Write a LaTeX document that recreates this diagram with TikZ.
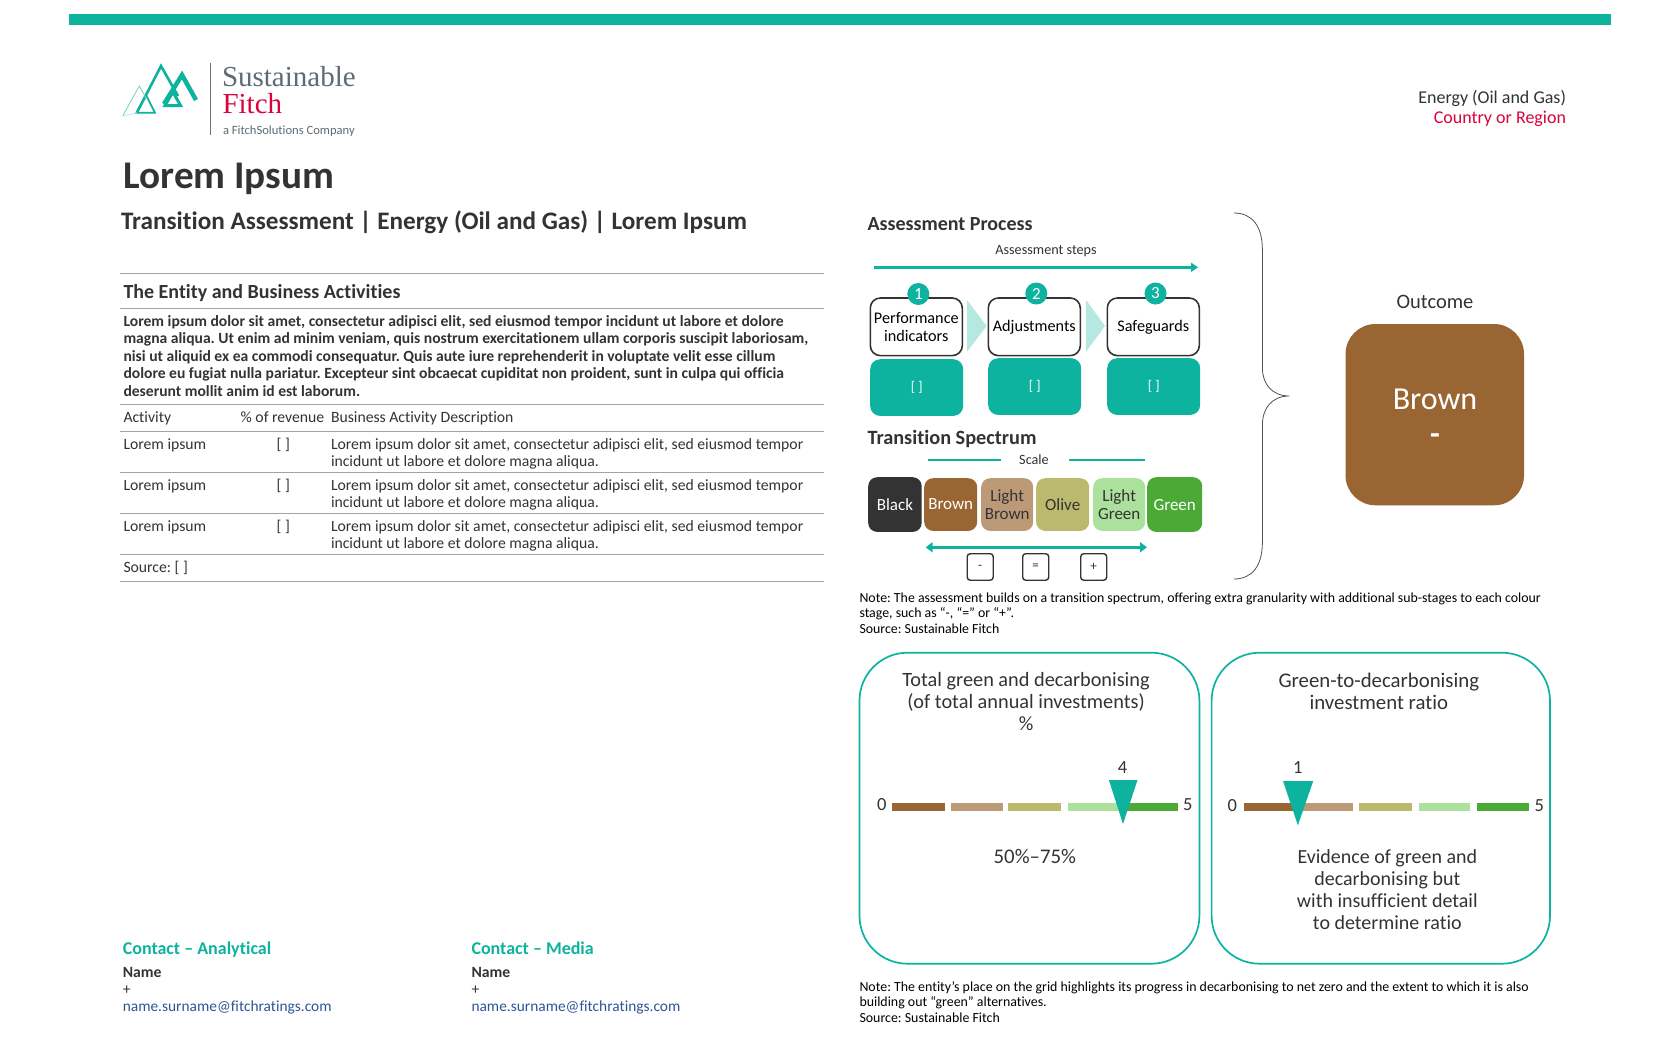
\documentclass[tikz,border=0pt]{standalone}
\usepackage{fontspec}
\setmainfont{Carlito}[Ligatures=NoCommon]
\newfontfamily\serifl{Liberation Serif}
\usetikzlibrary{arrows.meta}
\definecolor{fteal}{HTML}{0DB39E}
\definecolor{ftint}{HTML}{B5E8E0}
\definecolor{fdark}{HTML}{333333}
\definecolor{fred}{HTML}{D9043D}
\definecolor{fgrey}{HTML}{A0A4A8}
\definecolor{fslate}{HTML}{5F6B73}
\definecolor{fblue}{HTML}{2F5597}
\definecolor{fbrown}{HTML}{996633}
\definecolor{flbrown}{HTML}{BC9A78}
\definecolor{folive}{HTML}{BBB96E}
\definecolor{flgreen}{HTML}{ABE09D}
\definecolor{fgreen}{HTML}{4BA935}
\newcommand{\fs}[2]{\frenchspacing\fontsize{#1}{#2}\selectfont}
\tikzset{
  txt/.style={inner sep=0pt,outer sep=0pt,anchor=base west,text=fdark},
  ctr/.style={inner sep=0pt,outer sep=0pt,anchor=base,text=fdark,align=center},
  rule/.style={draw=fgrey,line width=1pt},
  stepbox/.style={draw=fdark,fill=white,line width=1.6pt,rounded corners=10pt,minimum width=92pt,minimum height=57.6pt,align=center,anchor=north west,inner sep=0pt,font=\fs{16.2}{18.5}},
  tealbox/.style={fill=fteal,rounded corners=10pt,minimum width=93pt,minimum height=56.7pt,anchor=north west,inner sep=0pt,text=white,font=\fs{14}{14}},
  numdot/.style={circle,fill=fteal,inner sep=0pt,minimum size=22pt,text=white,font=\fs{17}{17}},
  chev/.style={fill=ftint},
  swatch/.style={rounded corners=9pt,anchor=north west,inner sep=0pt,align=center,font=\fs{17}{18}},
  signbox/.style={draw=fdark,fill=white,line width=1.4pt,rounded corners=3pt,font=\fs{13}{13},text=fdark,inner sep=0pt,minimum width=26pt,minimum height=26.5pt,anchor=north west},
  panel/.style={draw=fteal,line width=1.7pt,rounded corners=48pt},
  tealline/.style={draw=fteal,line width=2.6pt},
  needle/.style={fill=fteal},
  body/.style={font=\fs{15.7}{17.3}},
  note/.style={text=black,align=left,font=\fs{13.9}{15.4}},
  panelt/.style={font=\fs{20.3}{21.8}},
}
\begin{document}
\begin{tikzpicture}[x=1pt,y=-1pt]
\useasboundingbox (0,0) rectangle (1680,1050);
\fill[white] (0,0) rectangle (1680,1050);
% top band
\fill[fteal] (69,14) rectangle (1611,24.5);
% logo
\draw[fteal,line width=2.6pt,line join=miter] (136.7,113) -- (161,66) -- (178,96);
\draw[fteal,line width=1.8pt] (136.5,112.8) -- (155,112.8) -- (146,95) -- cycle;
\draw[ftint!60!fteal,line width=.8pt] (122.7,116) -- (139.3,86) -- (146,98);
\draw[ftint,line width=.8pt] (122.7,116) -- (137,112.8);
\draw[fteal,line width=4.5pt,line join=miter] (164,104) -- (182,75) -- (196,100);
\draw[fteal,line width=3pt] (165,105.5) -- (180.5,105.5) -- (173,92) -- cycle;
\draw[fgrey!70!black,line width=.9pt] (210.7,62.7) -- (210.7,134.7);
\node[txt,text=fslate,font=\serifl\fs{29}{29}] (lg1) at (222,86) {Sustainable};
\node[txt,text=fred,font=\serifl\fs{29}{29}] (lg2) at (222.5,113) {Fitch};
\node[txt,text=fslate,font=\fs{12.6}{13}] (lg3) at (223,134) {a FitchSolutions Company};
% header
\node[txt,anchor=base east,font=\fs{18}{20}] (h1) at (1566,103) {Energy (Oil and Gas)};
\node[txt,anchor=base east,text=fred,font=\fs{18}{20}] (h2) at (1566,123) {Country or Region};
\node[txt,font=\fs{39.2}{40}\bfseries] (title) at (123.5,188) {Lorem Ipsum};
\node[txt,font=\fs{25.2}{28}\bfseries] (sub) at (121,229.5) {Transition Assessment | Energy (Oil and Gas) | Lorem Ipsum};
% table
\foreach \yy in {273.3,308.3,404.3,431,472,513.3,554.3,581.3}
  \draw[rule] (120,\yy) -- (824,\yy);
\node[txt,font=\fs{20}{20}\bfseries] (th) at (123.5,298.3) {The Entity and Business Activities};
\node[txt,align=left,font=\fs{15.6}{17.45}\bfseries] (para) at (123.5,396.3) {Lorem ipsum dolor sit amet, consectetur adipisci elit, sed eiusmod tempor incidunt ut labore et dolore\\
magna aliqua. Ut enim ad minim veniam, quis nostrum exercitationem ullam corporis suscipit laboriosam,\\
nisi ut aliquid ex ea commodi consequatur. Quis aute iure reprehenderit in voluptate velit esse cillum\\
dolore eu fugiat nulla pariatur. Excepteur sint obcaecat cupiditat non proident, sunt in culpa qui officia\\
deserunt mollit anim id est laborum.};
\node[txt,body] (c1) at (123.5,422.5) {Activity};
\node[txt,body] (c2) at (240.7,422.5) {\% of revenue};
\node[txt,body] (c3) at (331,422.5) {Business Activity Description};
\foreach \nm/\yy/\zz in {a/449.3/466.3,b/490.3/507.3,c/531.3/548.8}{
  \node[txt,body] (r\nm1) at (123.5,\yy) {Lorem ipsum};
  \node[ctr,body] (r\nm2) at (283.3,\yy) {[ ]};
  \node[txt,body,align=left] (r\nm3) at (331,\zz) {Lorem ipsum dolor sit amet, consectetur adipisci elit, sed eiusmod tempor\\incidunt ut labore et dolore magna aliqua.};
}
\node[txt,body] (src) at (123.5,572.4) {Source: [ ]};
% contacts
\node[txt,text=fteal,font=\fs{18}{18}\bfseries] (ca) at (122.8,954.2) {Contact – Analytical};
\node[txt,font=\fs{15.7}{17}\bfseries] (na) at (122.8,977.5) {Name};
\node[txt,body] (pa) at (122.8,994.5) {+};
\node[txt,text=fblue,font=\fs{15.4}{17}] (ea) at (122.8,1011.7) {name.surname@fitchratings.com};
\node[txt,text=fteal,font=\fs{18}{18}\bfseries] (cm) at (471.5,954.2) {Contact – Media};
\node[txt,font=\fs{15.7}{17}\bfseries] (nm) at (471.5,977.5) {Name};
\node[txt,body] (pm) at (471.5,994.5) {+};
\node[txt,text=fblue,font=\fs{15.4}{17}] (em) at (471.5,1011.7) {name.surname@fitchratings.com};
% assessment process
\node[txt,font=\fs{20}{20}\bfseries] (ap) at (867.5,230) {Assessment Process};
\node[ctr,font=\fs{14.2}{15}] (as) at (1046,254) {Assessment steps};
\coordinate (as0) at (874,267.3); \coordinate (as1) at (1198,267.3);
\draw[tealline,-{Triangle[length=7pt,width=9pt]}] (as0) -- (as1);
\fill[chev] (967,300) -- (986.6,326) -- (967,351.7) -- cycle;
\fill[chev] (1086,300) -- (1105,326) -- (1086,351.7) -- cycle;
\node[stepbox] (s1) at (869.5,297.2) {Performance\\indicators};
\node[stepbox] (s2) at (987.5,297.2) {Adjustments};
\node[stepbox] (s3) at (1106.5,297.2) {Safeguards};
\node[numdot] (n1) at (918.3,294) {1};
\node[numdot] (n2) at (1036.3,293.5) {2};
\node[numdot] (n3) at (1155.5,293.5) {3};
\node[tealbox] (t1) at (870,359) {\raisebox{1pt}{[ ]}};
\node[tealbox] (t2) at (988,358) {[ ]};
\node[tealbox] (t3) at (1107,358) {\raisebox{2pt}{[ ]}};
% spectrum
\node[txt,font=\fs{20.3}{20}\bfseries] (ts) at (867.5,444) {Transition Spectrum};
\node[ctr,font=\fs{14.2}{15}] (sc) at (1034,464) {Scale};
\coordinate (sa) at (928,460); \coordinate (sb) at (1001,460);
\coordinate (sc1) at (1069,460); \coordinate (sc2) at (1145,460);
\draw[fteal,line width=2pt] (sa) -- (sb);
\draw[fteal,line width=2pt] (sc1) -- (sc2);
\node[swatch,fill=fdark,text=white,minimum width=53.5pt,minimum height=54.7pt] (k1) at (868,477) {Black};
\node[swatch,fill=fbrown,text=white,minimum width=53pt,minimum height=52.7pt] (k2) at (924,478) {Brown};
\node[swatch,fill=flbrown,text=fdark,minimum width=52pt,minimum height=52.7pt] (k3) at (981,478) {Light\\Brown};
\node[swatch,fill=folive,text=fdark,minimum width=53pt,minimum height=52.7pt] (k4) at (1036,478) {Olive};
\node[swatch,fill=flgreen,text=fdark,minimum width=52pt,minimum height=52.7pt] (k5) at (1093,478) {Light\\Green};
\node[swatch,fill=fgreen,text=white,minimum width=55pt,minimum height=54.7pt] (k6) at (1147,477) {Green};
\coordinate (d0) at (925.7,547.3); \coordinate (d1) at (1147,547.3);
\draw[tealline,{Triangle[length=7pt,width=10pt]}-{Triangle[length=7pt,width=10pt]}] (d0) -- (d1);
\node[signbox] (m1) at (966.5,553) {-};
\node[signbox] (m2) at (1022,553) {=};
\node[signbox] (m3) at (1080,553) {+};
% brace
\draw[fdark!85,line width=.8pt] (1234,213) .. controls (1252,213) and (1262.4,226) .. (1262.4,250)
  -- (1262.4,368) .. controls (1262.4,384) and (1272,396) .. (1289.4,396)
  .. controls (1272,396) and (1262.4,408) .. (1262.4,425)
  -- (1262.4,542) .. controls (1262.4,566) and (1252,579) .. (1234,579);
% outcome
\node[ctr,font=\fs{20.5}{20}] (oc) at (1435,308) {Outcome};
\fill[fbrown,rounded corners=30pt] (1345.5,324) rectangle (1524,505.3);
\node[ctr,text=white,font=\fs{32}{32}] (ob) at (1435,409) {Brown};
\node[ctr,text=white,font=\fs{32}{32}\bfseries] (od) at (1435,444) {-};
% note 1
\node[txt,note,font=\fs{13.85}{15.3}] (note1) at (859.5,633) {Note: The assessment builds on a transition spectrum, offering extra granularity with additional sub-stages to each colour\\stage, such as “-, “=” or “+”.\\Source: Sustainable Fitch};
% panels
\draw[panel] (859.5,652.7) rectangle (1199.4,963.7);
\draw[panel] (1211.6,652.7) rectangle (1550,963.7);
\node[ctr,panelt] (p1) at (1026,730) {Total green and decarbonising\\(of total annual investments)\\\%};
\node[ctr,font=\fs{20.8}{21.8}] (p2) at (1378.8,709) {Green-to-decarbonising\\investment ratio};
\foreach \aa/\bb/\cc [count=\i] in {892.4/944.8/fbrown,950.6/1002.5/flbrown,1008.3/1060.7/folive,1067.6/1120/flgreen,1125.3/1178.2/fgreen}
  \fill[\cc] (\aa,803) rectangle (\bb,811);
\foreach \aa/\bb/\cc [count=\i] in {1243.9/1296.3/fbrown,1301/1353.4/flbrown,1359/1411.7/folive,1418.6/1470.4/flgreen,1476.8/1528.7/fgreen}
  \fill[\cc] (\aa,803.3) rectangle (\bb,811.3);
\fill[needle] (1108.9,780) -- (1137.5,780) -- (1123,824) -- cycle;
\fill[needle] (1283,781) -- (1313.2,781) -- (1297.9,825.3) -- cycle;
\node[ctr,font=\fs{18.5}{19}] (z1) at (881.8,810.7) {0};
\node[ctr,font=\fs{18.5}{19}] (f1) at (1187.7,810.7) {5};
\node[ctr,font=\fs{18.5}{19}] (z2) at (1232.2,811) {0};
\node[ctr,font=\fs{18.5}{19}] (f2) at (1539.3,811) {5};
\node[ctr,font=\fs{18.5}{19}] (v1) at (1122.6,773) {4};
\node[ctr,font=\fs{18.5}{19}] (v2) at (1297.9,773) {1};
\node[ctr,font=\fs{20.8}{21}] (pr) at (1034.8,863.5) {50\%–75\%};
\node[ctr,font=\fs{20}{21.9}] (ev) at (1387.3,929) {Evidence of green and\\decarbonising but\\with insufficient detail\\to determine ratio};
\node[txt,note,font=\fs{13.9}{15.5}] (note2) at (859.5,1022) {Note: The entity’s place on the grid highlights its progress in decarbonising to net zero and the extent to which it is also\\building out “green” alternatives.\\Source: Sustainable Fitch};
\end{tikzpicture}
\end{document}
